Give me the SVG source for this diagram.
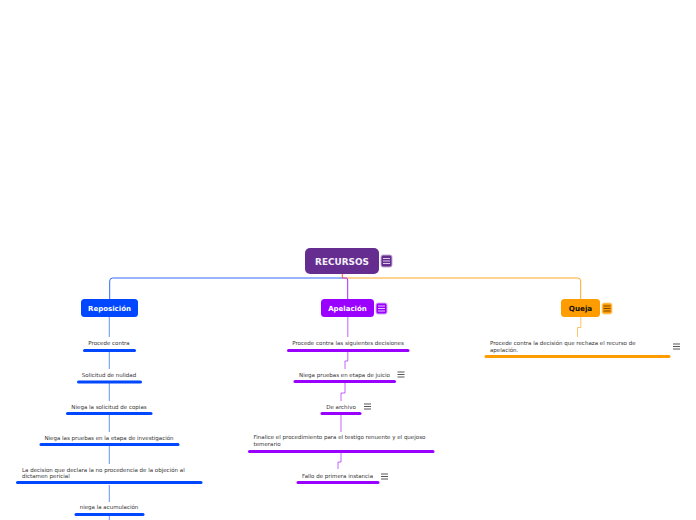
<svg xmlns="http://www.w3.org/2000/svg" width="696" height="520" viewBox="0 0 696 520">
<style>
text{font-family:"DejaVu Sans",Verdana,sans-serif}
.t{font-size:5.5px;fill:#333;text-anchor:middle}
.l{font-size:5.5px;fill:#333}
.c{fill:none;stroke-width:1}
.s{stroke-opacity:.6}
.bar{stroke-width:3;stroke-linecap:round;fill:none}
.b{stroke:#0047ff}.p{stroke:#9a00ff}.o{stroke:#ff9d00}
.ic{stroke:#444;stroke-width:.9;fill:none}
.h{font-size:7px;font-weight:bold;fill:#fff;text-anchor:middle}
</style>
<defs>
<g id="m"><path d="M0 0H7M0 2.500H7M0 5H7"/></g>
</defs>
<rect width="696" height="520" fill="#fff"/>
<g id="connectors">
<path class="c" stroke="#2f6aff" d="M342 278H112.700Q109.700 278 109.700 281V299"/>
<path class="c" stroke="#ffa826" d="M342 278H577.700Q580.700 278 580.700 281V299"/>
<path class="c" stroke="#a82bff" d="M342 278H346Q347.700 278 347.700 280V299"/>
<path class="c" stroke="#e8602c" d="M342.300 274V278"/>
<path class="c b s" d="M109.300 317V337M109.300 352V369M109.300 383V401M109.300 415V432M109.300 446V464M109.300 485V502M109.300 516V520"/>
<path class="c p s" d="M347.800 317V337M347.800 352V361H345V369M345 383V393H341V401M341 415V432M341 453V462H338V469"/>
<path class="c o s" d="M580.800 317V327.500H577.500V337"/>
</g>
<g id="root"><rect x="305" y="248" width="74" height="26" rx="5" fill="#662d91"/><text x="342" y="264.500" text-anchor="middle" font-size="8.900" font-weight="bold" fill="#f4f0f8">RECURSOS</text>
<rect x="381" y="255" width="11" height="12" rx="2" fill="#662d91" stroke="#c2abd3"/><use href="#m" x="383" y="258.500" stroke="#e8dcf2" stroke-width=".9"/></g>
<g id="reposicion"><rect x="81" y="299" width="57" height="18" rx="3.500" fill="#0047ff"/><text class="h" x="109.500" y="311">Reposición</text></g>
<g id="apelacion"><rect x="321" y="299" width="53" height="18" rx="3.500" fill="#9a00ff"/><text class="h" x="347.500" y="311">Apelación</text>
<rect x="376" y="303" width="11" height="11" rx="2" fill="#9a00ff" stroke="#d9a6ff"/><use href="#m" x="378" y="306" stroke="#f0dcff" stroke-width=".9"/></g>
<g id="queja"><rect x="561" y="299" width="39" height="18" rx="3.500" fill="#ff9d00"/><text x="580.500" y="311" text-anchor="middle" font-size="7.200" font-weight="bold" fill="#111">Queja</text>
<rect x="602" y="303" width="10" height="11" rx="2" fill="#ff9d00" stroke="#ffd28a"/><use href="#m" x="603.500" y="306" stroke="#6b4200" stroke-width=".9"/></g>
<g id="r1"><text class="t" x="109" y="345">Procede contra</text><path class="bar b" d="M84.500 350.500H134.500"/></g>
<g id="r2"><text class="t" x="109" y="377">Solicitud de nulidad</text><path class="bar b" d="M78.500 382H140.500"/></g>
<g id="r3"><text class="t" x="109" y="408.500">Niega la solicitud de copias</text><path class="bar b" d="M67.500 413.500H151"/></g>
<g id="r4"><text class="t" x="109" y="439.500">Niega las pruebas en la etapa de investigación</text><path class="bar b" d="M41 444.500H178"/></g>
<g id="r5"><text class="l" x="22" y="471.500">La decision que declara la no procedencia de la objeción al</text><text class="l" x="22" y="477.500">dictamen pericial</text><path class="bar b" d="M17.500 482.500H201"/></g>
<g id="r6"><text class="t" x="109" y="509">niega la acumulación</text><path class="bar b" d="M76 514.500H143"/></g>
<g id="a1"><text class="t" x="348" y="345">Procede contra las siguientes decisiones</text><path class="bar p" d="M288.500 350.500H408"/></g>
<g id="a2"><text class="t" x="344.500" y="376.500">Niega pruebas en etapa de juicio</text><path class="bar p" d="M295 381.500H394.500"/><use href="#m" x="397.500" y="372" class="ic"/></g>
<g id="a3"><text class="t" x="341" y="408.500">De archivo</text><path class="bar p" d="M322 413.500H360"/><use href="#m" x="364" y="404" class="ic"/></g>
<g id="a4"><text class="l" x="253.500" y="439">Finalice el procedimiento para el testigo renuente y el quejoso</text><text class="l" x="253.500" y="446">temerario</text><path class="bar p" d="M249.500 451.500H433"/></g>
<g id="a5"><text class="t" x="337.500" y="477.500">Fallo de primera instancia</text><path class="bar p" d="M298 482.500H378"/><use href="#m" x="381" y="474" class="ic"/></g>
<g id="q1"><text class="l" x="490" y="345">Procede contra la decisión que rechaza el recurso de</text><text class="l" x="490" y="352">apelación.</text><path class="bar o" d="M486 356.500H669"/><use href="#m" x="673" y="344" class="ic"/></g>
</svg>
